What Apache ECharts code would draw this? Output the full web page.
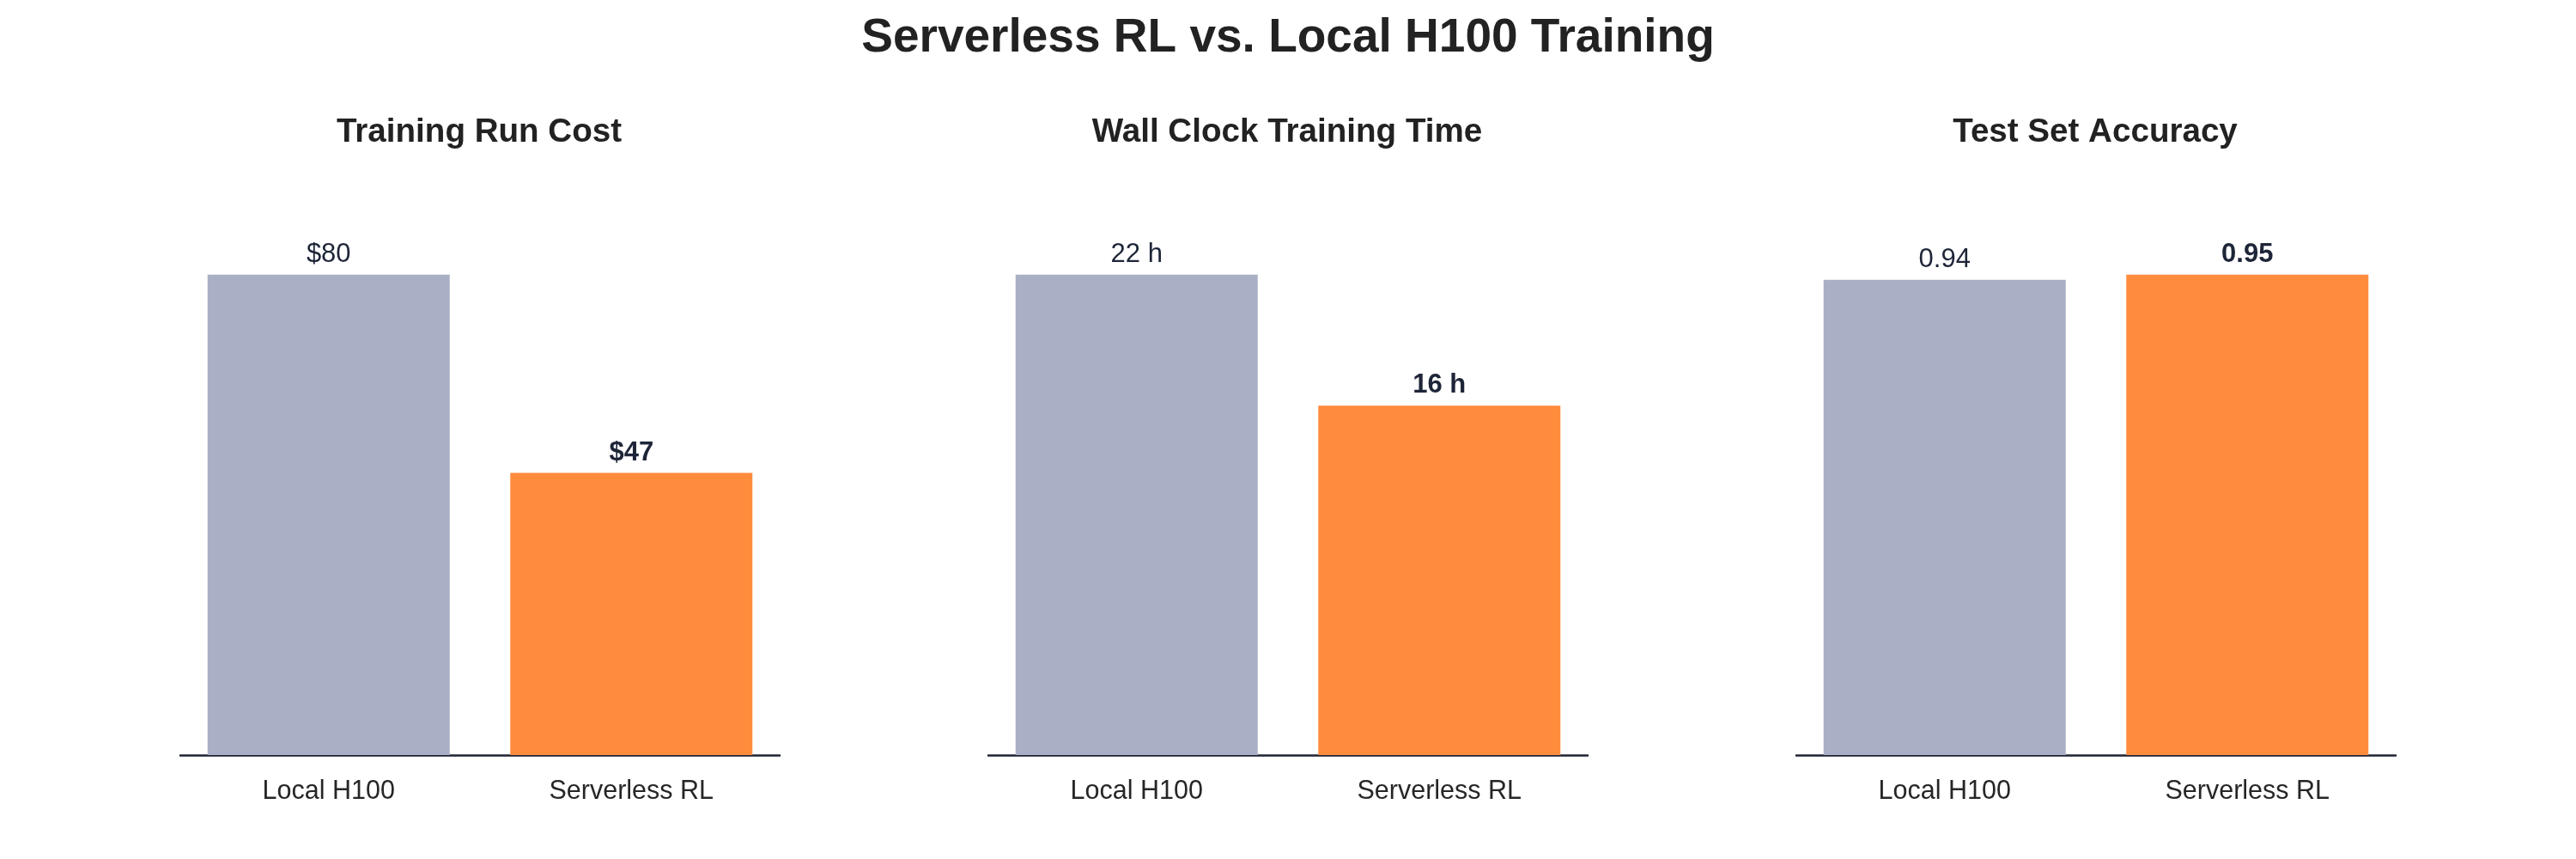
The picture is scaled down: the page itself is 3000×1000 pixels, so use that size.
<!DOCTYPE html>
<html>
<head>
<meta charset="utf-8">
<script src="https://cdn.jsdelivr.net/npm/echarts@6/dist/echarts.min.js"></script>
<style>
html,body{margin:0;padding:0;background:#fff;}
#chart{width:3000px;height:1000px;}
</style>
</head>
<body>
<div id="chart"></div>
<script>
const mainTitle = "Serverless RL vs. Local H100 Training";
const panelTitles = ["Training Run Cost", "Wall Clock Training Time", "Test Set Accuracy"];
const categories = ["Local H100", "Serverless RL"];
const costValues = [80, 47];
const timeValues = [22, 16];
const accuracyValues = [0.94, 0.95];
const panelValues = [costValues, timeValues, accuracyValues];
const labelFormats = [
  v => "$" + v,
  v => v + " h",
  v => v.toFixed(2)
];

const FONT = "'Liberation Sans', Arial, Helvetica, sans-serif";
const barColors = ["#a9afc4", "#ff8b3d"];
const gridLefts = [210, 1151, 2092];
const gridWidth = 698;
const xMin = -0.49, xMax = 1.49;

const chart = echarts.init(document.getElementById('chart'), null, {renderer: 'canvas'});

const titles = [{
  text: mainTitle,
  left: 'center',
  top: 12,
  textStyle: {fontFamily: FONT, fontSize: 55, fontWeight: 'bold', color: '#222222'}
}];
panelTitles.forEach((t, i) => {
  titles.push({
    text: t,
    left: gridLefts[i] + gridWidth / 2 - 6,
    textAlign: 'center',
    top: 130,
    textStyle: {fontFamily: FONT, fontSize: 38.6, fontWeight: 'bold', color: '#222222'}
  });
});

const grids = [], xAxes = [], yAxes = [], series = [];
panelValues.forEach((vals, i) => {
  grids.push({left: gridLefts[i], width: gridWidth, top: 180, height: 699, containLabel: false});
  xAxes.push({
    type: 'value',
    gridIndex: i,
    min: xMin,
    max: xMax,
    axisLine: {show: true, onZero: false, lineStyle: {color: '#1e2235', width: 2.5}},
    axisTick: {show: false},
    axisLabel: {
      fontFamily: FONT, fontSize: 30.5, color: '#262626', margin: 27,
      customValues: categories.map((c, k) => k),
      formatter: v => categories[Math.round(v)]
    },
    splitLine: {show: false}
  });
  yAxes.push({
    type: 'value',
    gridIndex: i,
    min: 0,
    max: Math.max(...vals) * 1.25,
    show: false,
    splitLine: {show: false}
  });
  series.push({
    type: 'bar',
    xAxisIndex: i,
    yAxisIndex: i,
    barWidth: 282,
    data: vals.map((v, j) => ({
      value: [j, v],
      itemStyle: {color: barColors[j]},
      label: {fontWeight: j === 1 ? 'bold' : 'normal'}
    })),
    label: {
      show: true,
      position: 'top',
      distance: 8,
      fontFamily: FONT,
      fontSize: 31,
      color: '#1e2538',
      formatter: p => labelFormats[i](p.value[1])
    },
    animation: false
  });
});

chart.setOption({
  backgroundColor: '#ffffff',
  animation: false,
  title: titles,
  grid: grids,
  xAxis: xAxes,
  yAxis: yAxes,
  series: series
});
</script>
</body>
</html>
